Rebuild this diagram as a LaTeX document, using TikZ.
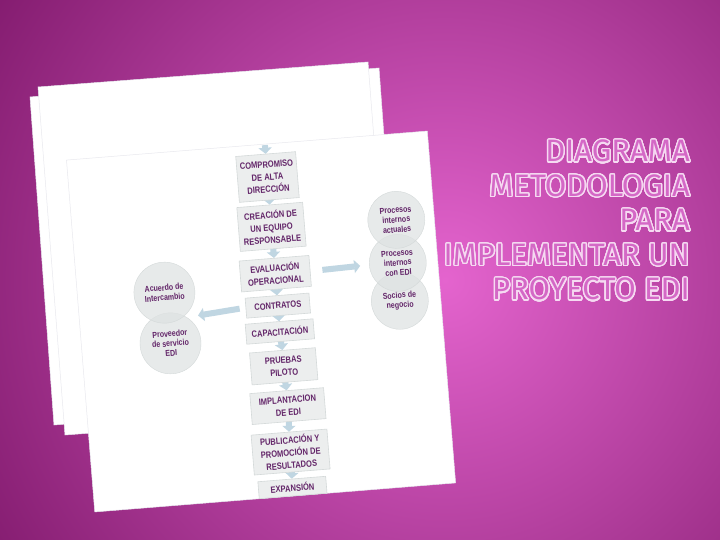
\documentclass[tikz,border=0pt]{standalone}
\usepackage{fontspec}
\usepackage{contour}
\usetikzlibrary{arrows.meta,calc}
\newfontfamily\titlefont{Fira Sans}
\newfontfamily\flowfont[FakeStretch=0.82]{Liberation Sans}
\pgfdeclarelayer{sheets}
\pgfdeclarelayer{behind}
\pgfsetlayers{sheets,behind,main}
\contourlength{1.3pt}
\contournumber{32}

\begin{document}
\begin{tikzpicture}[x=1pt,y=-1pt]
    % set up slide palette
    \definecolor{slideGlow}{RGB}{228,100,206}
    \definecolor{slidePlum}{RGB}{116,16,96}
    \definecolor{sheetEdge}{RGB}{232,232,238}
    \definecolor{boxGrey}{RGB}{236,238,238}
    \definecolor{boxEdge}{RGB}{212,217,217}
    \definecolor{circGrey}{RGB}{222,226,226}
    \definecolor{textPlum}{RGB}{98,36,104}
    \definecolor{arrowBlue}{RGB}{192,214,226}
    \definecolor{titleFill}{RGB}{212,104,198}
    \definecolor{titleRim}{RGB}{246,218,242}
    \tikzstyle{flowbox}=[draw=boxEdge, line width=0.6pt, fill=boxGrey, align=center, inner sep=1pt, text=textPlum, font=\flowfont\bfseries\fontsize{9.2}{12.5}\selectfont]
    \tikzstyle{sidecircle}=[circle, minimum size=57, inner sep=0pt, draw=boxEdge, fill=circGrey, fill opacity=0.7, text opacity=1, align=center, text=textPlum, font=\flowfont\bfseries\fontsize{8.6}{9.8}\selectfont]
    \tikzstyle{flowarrow}=[draw=arrowBlue, line width=6pt, -{Triangle[width=13pt,length=6pt]}]

    \useasboundingbox (0,0) rectangle (720,540);

    % slide background and loose sheets
    \begin{pgfonlayer}{sheets}
      \begin{scope}
        \clip (0,0) rectangle (720,540);
        \shade[inner color=slideGlow, outer color=slidePlum] (445,280) circle (620);
      \end{scope}
      \filldraw[fill=white, draw=sheetEdge, line width=0.5pt] (30,97) -- (379,68) -- (403,396) -- (54,425) -- cycle;
      \filldraw[fill=white, draw=sheetEdge, line width=0.5pt] (38,87) -- (368,62) -- (395,410) -- (65,435) -- cycle;
    \end{pgfonlayer}

    % tilted sheet with the flow chart
    \begin{scope}[rotate around={4.6:(261,321)}, transform shape]
      \begin{pgfonlayer}{sheets}
        \filldraw[fill=white, draw=sheetEdge, line width=0.5pt] (80,145) rectangle (442,498);
      \end{pgfonlayer}

      % main steps
      \node[flowbox, minimum width=60, minimum height=46] (commit) at (279,178) {COMPROMISO\\DE ALTA\\DIRECCIÓN};
      \node[flowbox, minimum width=66, minimum height=44] (team) at (279,228) {CREACIÓN DE\\UN EQUIPO\\RESPONSABLE};
      \node[flowbox, minimum width=70, minimum height=31] (evalop) at (279,275) {EVALUACIÓN\\OPERACIONAL};
      \node[flowbox, minimum width=64, minimum height=20] (contracts) at (279,307) {CONTRATOS};
      \node[flowbox, minimum width=68, minimum height=20] (training) at (279,333) {CAPACITACIÓN};
      \node[flowbox, minimum width=66, minimum height=32] (pilot) at (280,368) {PRUEBAS\\PILOTO};
      \node[flowbox, minimum width=74, minimum height=31] (deploy) at (281,408) {IMPLANTACION\\DE EDI};
      \node[flowbox, minimum width=76, minimum height=40] (publish) at (280,454) {PUBLICACIÓN Y\\PROMOCIÓN DE\\RESULTADOS};
      \node[flowbox, minimum width=68, minimum height=17] (expand) at (279,489.5) {EXPANSIÓN};

      % side circles, lowest first
      \node[sidecircle, minimum size=61] (provider) at (169,336) {Proveedor\\de servicio\\EDI};
      \node[sidecircle, minimum size=61] (accord) at (167,285) {Acuerdo de\\Intercambio};
      \node[sidecircle] (partners) at (401,312) {Socios de\\negocio};
      \node[sidecircle] (procEdi) at (402,274) {Procesos\\internos\\con EDI};
      \node[sidecircle] (procNow) at (404,231) {Procesos\\internos\\actuales};

      % arrows behind the boxes
      \coordinate (flowtop) at (279,146);
      \coordinate (leftjoin) at ($(accord.east)!0.5!(provider.east)$);
      \begin{pgfonlayer}{behind}
        \draw[flowarrow] (flowtop) -- (commit.north);
        \foreach \a/\b in {commit/team, team/evalop, evalop/contracts, contracts/training, training/pilot, pilot/deploy, deploy/publish, publish/expand}{
          \draw[flowarrow] ([yshift=3pt]\a.south) -- (\b.north);
        }
        \draw[flowarrow] ([xshift=12pt]evalop.east) -- ([xshift=-9pt]procEdi.west);
        \draw[flowarrow] ([xshift=-6pt]contracts.west) -- (leftjoin);
      \end{pgfonlayer}
    \end{scope}

    % slide title
    \node[anchor=north east, inner sep=0pt, align=right, text=titleFill, font=\titlefont\fontsize{31}{34.5}\selectfont] (title) at (690,140)
      {\contour{titleRim}{DIAGRAMA}\\\contour{titleRim}{METODOLOGIA}\\\contour{titleRim}{PARA}\\\contour{titleRim}{IMPLEMENTAR UN}\\\contour{titleRim}{PROYECTO EDI}};
\end{tikzpicture}
\end{document}
